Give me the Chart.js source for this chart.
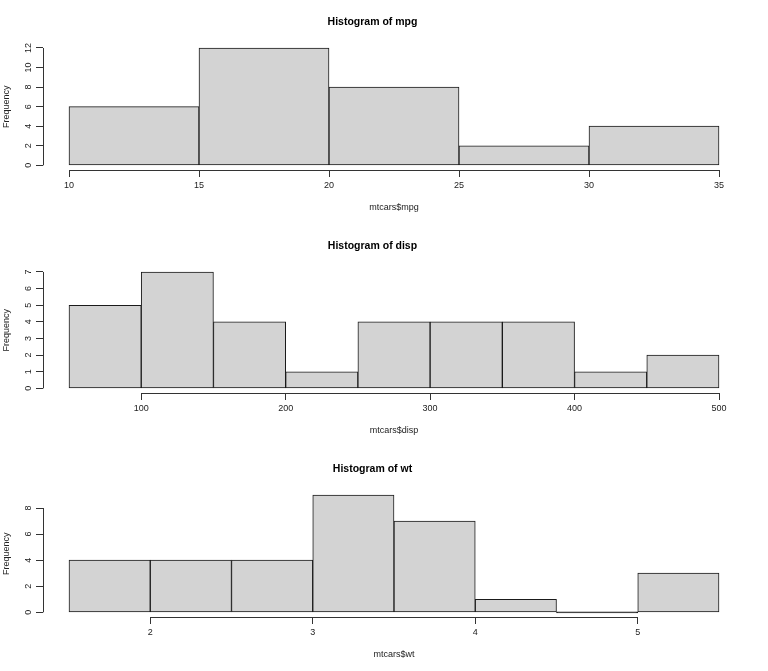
<!DOCTYPE html>
<html>
<head>
<meta charset="utf-8">
<script src="https://cdn.jsdelivr.net/npm/chart.js@4.4.0/dist/chart.umd.min.js"></script>
<style>
    html, body { margin: 0; padding: 0; background: #fff; }
    #wrap { position: relative; width: 768px; height: 671px; }
    .panel { position: absolute; left: 0; width: 768px; }
</style>
</head>
<body>
<div id="wrap">
    <div class="panel" style="top:0px;height:224px"><canvas id="mpgChart"></canvas></div>
    <div class="panel" style="top:224px;height:223px"><canvas id="dispChart"></canvas></div>
    <div class="panel" style="top:447px;height:224px"><canvas id="wtChart"></canvas></div>
</div>
<script>
// histogram bins (break points) and counts
const mpgBreaks = [10, 15, 20, 25, 30, 35];
const mpgCounts = [6, 12, 8, 2, 4];
const mpgXTicks = [10, 15, 20, 25, 30, 35];
const mpgYTicks = [0, 2, 4, 6, 8, 10, 12];

const dispBreaks = [50, 100, 150, 200, 250, 300, 350, 400, 450, 500];
const dispCounts = [5, 7, 4, 1, 4, 4, 4, 1, 2];
const dispXTicks = [100, 200, 300, 400, 500];
const dispYTicks = [0, 1, 2, 3, 4, 5, 6, 7];

const wtBreaks = [1.5, 2, 2.5, 3, 3.5, 4, 4.5, 5, 5.5];
const wtCounts = [4, 4, 4, 9, 7, 1, 0, 3];
const wtXTicks = [2, 3, 4, 5];
const wtYTicks = [0, 2, 4, 6, 8];

const FONT = '"Liberation Sans", Arial, Helvetica, sans-serif';
const AXIS_COLOR = '#333';
const BAR_FILL = '#d3d3d3';
const BAR_LINE = '#1a1a1a';

// R style axes: line only between first and last tick, y labels rotated
const rAxesPlugin = {
    id: 'rAxes',
    afterDraw(chart) {
        const ctx = chart.ctx;
        const xs = chart.scales.x;
        const ys = chart.scales.y;
        const area = chart.chartArea;
        ctx.save();
        ctx.strokeStyle = AXIS_COLOR;
        ctx.lineWidth = 1;

        const xt = xs.ticks;
        const yb = Math.round(area.bottom) + 0.5;
        ctx.beginPath();
        ctx.moveTo(xs.getPixelForValue(xt[0].value), yb);
        ctx.lineTo(xs.getPixelForValue(xt[xt.length - 1].value), yb);
        ctx.stroke();

        const yt = ys.ticks;
        const xl = Math.round(area.left) + 0.5;
        ctx.beginPath();
        ctx.moveTo(xl, ys.getPixelForValue(yt[0].value));
        ctx.lineTo(xl, ys.getPixelForValue(yt[yt.length - 1].value));
        ctx.stroke();

        ctx.fillStyle = '#222';
        ctx.font = '9px ' + FONT;
        ctx.textAlign = 'center';
        ctx.textBaseline = 'middle';
        yt.forEach(t => {
            const py = ys.getPixelForValue(t.value);
            ctx.save();
            ctx.translate(area.left - 14, py);
            ctx.rotate(-Math.PI / 2);
            ctx.fillText(String(t.value), 0, 0);
            ctx.restore();
        });
        ctx.restore();
    }
};

function makeHist(canvasId, title, xTitle, breaks, counts, xTicks, yTicks) {
    const centers = counts.map((c, i) => (breaks[i] + breaks[i + 1]) / 2);
    const xPad = (breaks[breaks.length - 1] - breaks[0]) * 0.04;
    const yMax = Math.max(...counts);
    const yPad = yMax * 0.04;

    return new Chart(document.getElementById(canvasId), {
        type: 'bar',
        data: {
            datasets: [{
                data: centers.map((x, i) => ({ x: x, y: counts[i] })),
                // empty bins show as a flat line on the baseline, like R does
                backgroundColor: counts.map(c => c === 0 ? BAR_LINE : BAR_FILL),
                borderColor: BAR_LINE,
                borderWidth: 1,
                borderSkipped: false,
                barPercentage: 1,
                categoryPercentage: 1,
                minBarLength: 1,
            }],
        },
        options: {
            responsive: true,
            maintainAspectRatio: false,
            animation: false,
            events: [],
            layout: { padding: { left: 0, right: 23, top: 0, bottom: 0 } },
            plugins: {
                legend: { display: false },
                tooltip: { enabled: false },
                title: {
                    display: true,
                    text: title,
                    color: '#000',
                    font: { family: FONT, size: 10.5, weight: 'bold' },
                    padding: { top: 15.7, bottom: 15 },
                },
            },
            scales: {
                x: {
                    type: 'linear',
                    offset: false,
                    min: breaks[0] - xPad,
                    max: breaks[breaks.length - 1] + xPad,
                    afterBuildTicks: s => { s.ticks = xTicks.map(v => ({ value: v })); },
                    afterFit: s => { s.height = 54; },
                    border: { display: false },
                    grid: { display: true, offset: false, drawOnChartArea: false, drawTicks: true, tickLength: 7, color: AXIS_COLOR },
                    ticks: {
                        autoSkip: false,
                        maxRotation: 0,
                        padding: 3,
                        color: '#222',
                        font: { family: FONT, size: 9 },
                        callback: v => String(v),
                    },
                    title: {
                        display: true,
                        text: xTitle,
                        color: '#222',
                        font: { family: FONT, size: 9 },
                        padding: { top: 0, bottom: 10.8 },
                    },
                },
                y: {
                    min: -yPad,
                    max: yMax + yPad,
                    afterBuildTicks: s => { s.ticks = yTicks.map(v => ({ value: v })); },
                    afterFit: s => { s.width = 43; },
                    border: { display: false },
                    grid: { display: true, offset: false, drawOnChartArea: false, drawTicks: true, tickLength: 7, color: AXIS_COLOR },
                    ticks: {
                        autoSkip: false,
                        color: 'rgba(0,0,0,0)',
                        font: { family: FONT, size: 9 },
                    },
                    title: {
                        display: true,
                        text: 'Frequency',
                        color: '#222',
                        font: { family: FONT, size: 9 },
                        padding: { top: 1.6, bottom: 0 },
                    },
                },
            },
        },
        plugins: [rAxesPlugin],
    });
}

makeHist('mpgChart', 'Histogram of mpg', 'mtcars$mpg', mpgBreaks, mpgCounts, mpgXTicks, mpgYTicks);
makeHist('dispChart', 'Histogram of disp', 'mtcars$disp', dispBreaks, dispCounts, dispXTicks, dispYTicks);
makeHist('wtChart', 'Histogram of wt', 'mtcars$wt', wtBreaks, wtCounts, wtXTicks, wtYTicks);
</script>
</body>
</html>
